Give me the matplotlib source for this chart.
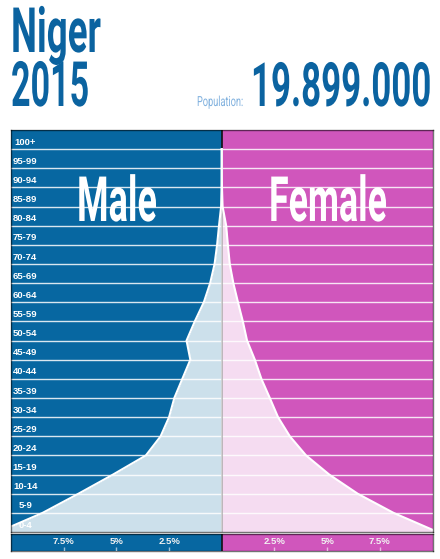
import numpy as np
import matplotlib
matplotlib.use("Agg")
import matplotlib.pyplot as plt
from matplotlib import patheffects
from matplotlib.transforms import Affine2D, Bbox

# ---- data (percent of total population) ----
age_groups = ["0-4", "5-9", "10-14", "15-19", "20-24", "25-29", "30-34", "35-39",
              "40-44", "45-49", "50-54", "55-59", "60-64", "65-69", "70-74",
              "75-79", "80-84", "85-89", "90-94", "95-99", "100+"]
male_pct = [10.6, 8.5, 6.8, 5.16, 3.6, 2.9, 2.5, 2.25, 1.87, 1.49, 1.67, 1.28,
            0.85, 0.55, 0.34, 0.22, 0.13, 0.03, 0.01, 0.0, 0.0]
female_pct = [10.24, 8.15, 6.45, 5.1, 4.0, 3.23, 2.67, 2.28, 1.88, 1.57, 1.2, 1.0,
              0.77, 0.55, 0.38, 0.29, 0.21, 0.04, 0.01, 0.0, 0.0]
tick_values = [-7.5, -5, -2.5, 2.5, 5, 7.5]
tick_labels = ["7.5%", "5%", "2.5%", "2.5%", "5%", "7.5%"]
country = "Niger"
year = "2015"
population = "19.899.000"
pop_label = "Population:"

MALE_BG = "#0767a1"
FEMALE_BG = "#d056bc"
TITLE_C = "#0b63a0"
POP_LBL_C = "#7fb0de"
FONT_C = ["Roboto", "DejaVu Sans"]
FONT_S = ["Liberation Sans", "DejaVu Sans"]

W, H = 440, 559
fig = plt.figure(figsize=(W / 100, H / 100), dpi=100)
fig.patch.set_facecolor("white")
renderer = fig.canvas.get_renderer()


def fx(px):
    return px / W


def fy(py):
    return 1 - py / H


class Squeeze(patheffects.AbstractPathEffect):
    """Draw the text glyphs horizontally condensed around an anchor x."""

    def __init__(self, sx, x_anchor):
        super().__init__()
        self.sx = sx
        self.x_anchor = x_anchor

    def draw_path(self, renderer, gc, tpath, affine, rgbFace=None):
        squeeze = (Affine2D().translate(-self.x_anchor, 0)
                   .scale(self.sx, 1).translate(self.x_anchor, 0))
        renderer.draw_path(gc, tpath, affine + squeeze, rgbFace)


def condensed_text(xpx, ypx, s, target_w, ha, size, color, weight="bold"):
    t = fig.text(fx(xpx), fy(ypx), s, ha=ha, va="baseline", color=color,
                 fontsize=size, family=FONT_C, weight=weight)
    bb = t.get_window_extent(renderer)
    sx = min(1.0, target_w / bb.width)
    anchor = {"left": bb.x0, "right": bb.x1, "center": 0.5 * (bb.x0 + bb.x1)}[ha]
    t.set_path_effects([Squeeze(sx, anchor)])
    x0 = anchor + (bb.x0 - anchor) * sx
    x1 = anchor + (bb.x1 - anchor) * sx
    drawn = Bbox.from_extents(x0, bb.y0, x1, bb.y1)
    t.get_window_extent = lambda renderer=None, dpi=None, _b=drawn: _b
    return t


# ---- main pyramid axes ----
ax = fig.add_axes([fx(11), fy(532), (432.5 - 11) / W, (532 - 130) / H])
n = len(age_groups)
ax.set_xlim(-10, 10)
ax.set_ylim(0, n)
ax.axvspan(-10, 0, color=MALE_BG, lw=0, zorder=0)
ax.axvspan(0, 10, color=FEMALE_BG, lw=0, zorder=0)
for i in range(1, n):
    ax.axhline(i, color="white", lw=1.0, alpha=0.85, zorder=1)
ax.axvline(0, color="#111111", lw=1.2, zorder=2)

y = np.arange(n)
m = -np.array(male_pct)
f = np.array(female_pct)
ax.fill_betweenx(y, m, 0, color="white", alpha=0.8, lw=0, zorder=3)
ax.fill_betweenx(y, 0, f, color="white", alpha=0.8, lw=0, zorder=3)
ax.plot(m, y, color="white", lw=1.5, zorder=4, solid_joinstyle="miter")
ax.plot(f, y, color="white", lw=1.5, zorder=4, solid_joinstyle="miter")

for i, lab in enumerate(age_groups):
    ax.text(-9.33, i + 0.36, lab, ha="center", va="center", color="white",
            fontsize=6.8, family=FONT_S, weight="bold", zorder=5)

ax.set_xticks([])
ax.set_yticks([])
for s in ax.spines.values():
    s.set_color((0, 0, 0, 0.55))
    s.set_linewidth(1.0)
    s.set_zorder(6)

# ---- bottom axis bar ----
ax2 = fig.add_axes([fx(11), fy(551), (432.5 - 11) / W, (551 - 534) / H])
ax2.set_xlim(-10, 10)
ax2.set_ylim(0, 1)
ax2.axvspan(-10, 0, color=MALE_BG, lw=0, zorder=0)
ax2.axvspan(0, 10, color=FEMALE_BG, lw=0, zorder=0)
ax2.axvline(0, color="#111111", lw=1.2, zorder=2)
ax2.vlines(tick_values, 0, 0.22, color="white", alpha=0.6, lw=1, zorder=3)
for tv, tl in zip(tick_values, tick_labels):
    ax2.text(tv, 0.55, tl, ha="center", va="center", color="#f2f2f2",
             fontsize=6.8, family=FONT_S, weight="bold", zorder=4)
ax2.set_xticks([])
ax2.set_yticks([])
for s in ax2.spines.values():
    s.set_color((0, 0, 0, 0.55))
    s.set_linewidth(1.0)

# ---- titles and big labels ----
condensed_text(11, 52, country, 90, "left", 45, TITLE_C)
condensed_text(11, 106, year, 78, "left", 45, TITLE_C)
condensed_text(431, 106, population, 180, "right", 44, TITLE_C)
condensed_text(243, 106, pop_label, 46, "right", 10, POP_LBL_C, weight="normal")
condensed_text(117, 221, "Male", 80, "center", 45, "white")
condensed_text(328, 221, "Female", 118, "center", 45, "white")

fig.savefig("out.png", dpi=100, facecolor="white")
